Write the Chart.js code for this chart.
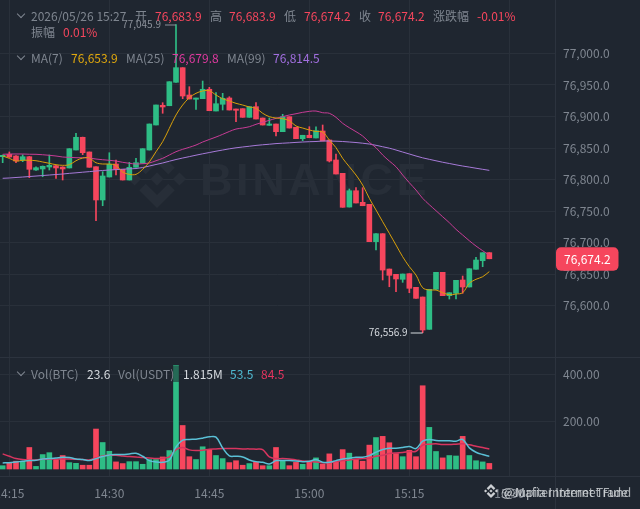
<!DOCTYPE html>
<html>
<head>
<meta charset="utf-8">
<style>
    html, body { margin: 0; padding: 0; background: #1f2630; overflow: hidden; }
    #wrap { position: relative; width: 640px; height: 509px; overflow: hidden; font: 12px "Noto Sans CJK SC", "Noto Sans", sans-serif; color: #7f8690; }
    canvas { position: absolute; left: 0; }
    #priceChart { top: 0; }
    #volumeChart { top: 358px; }
    .t { position: absolute; white-space: nowrap; line-height: 16px; }
    .r { color: #f6465d; }
    .y { color: #e0a80d; }
    .p { color: #df3a9f; }
    .v { color: #a26fe0; }
    .w { color: #d5d9de; }
    .c { color: #4fb9d0; }
    .m { color: #e5345f; }
    .line { position: absolute; background: #2c333e; }
    .chev { position: absolute; left: 18px; width: 5px; height: 5px; border-right: 1px solid #7f8690; border-bottom: 1px solid #7f8690; transform: rotate(45deg); }
    .credit { position: absolute; left: 501px; top: 484px; color: rgba(225, 228, 232, 0.72); line-height: 16px; white-space: nowrap; }
</style>
</head>
<body>
<div id="wrap">
    <canvas id="priceChart" width="640" height="358"></canvas>
    <canvas id="volumeChart" width="640" height="151"></canvas>

    <div class="line" style="left:0;top:357px;width:640px;height:1px"></div>
    <div class="line" style="left:0;top:476px;width:640px;height:1px"></div>
    <div class="line" style="left:555px;top:0;width:1px;height:509px"></div>

    <div class="chev" style="top:11px"></div>
    <span class="t" style="left:31px;top:8px">2026/05/26 15:27</span>
    <span class="t" style="left:135px;top:8px">开</span>
    <span class="t r" style="left:155px;top:8px">76,683.9</span>
    <span class="t" style="left:210px;top:8px">高</span>
    <span class="t r" style="left:229px;top:8px">76,683.9</span>
    <span class="t" style="left:284px;top:8px">低</span>
    <span class="t r" style="left:304px;top:8px">76,674.2</span>
    <span class="t" style="left:359px;top:8px">收</span>
    <span class="t r" style="left:378px;top:8px">76,674.2</span>
    <span class="t" style="left:433px;top:8px">涨跌幅</span>
    <span class="t r" style="left:477px;top:8px">-0.01%</span>
    <span class="t" style="left:31px;top:24px">振幅</span>
    <span class="t r" style="left:63px;top:24px">0.01%</span>

    <div class="chev" style="top:53px"></div>
    <span class="t" style="left:31px;top:50px">MA(7)</span>
    <span class="t y" style="left:71px;top:50px">76,653.9</span>
    <span class="t" style="left:126px;top:50px">MA(25)</span>
    <span class="t p" style="left:172px;top:50px">76,679.8</span>
    <span class="t" style="left:227px;top:50px">MA(99)</span>
    <span class="t v" style="left:273px;top:50px">76,814.5</span>

    <div class="chev" style="top:369px"></div>
    <span class="t" style="left:31px;top:366px">Vol(BTC)</span>
    <span class="t w" style="left:87px;top:366px">23.6</span>
    <span class="t" style="left:118px;top:366px;background:rgba(31,38,48,0.55);padding-right:6px">Vol(USDT)</span>
    <span class="t w" style="left:183px;top:366px">1.815M</span>
    <span class="t c" style="left:230px;top:366px">53.5</span>
    <span class="t m" style="left:261px;top:366px">84.5</span>

    <span class="credit">@Jupiter Internet Fund</span>
    <span class="credit" style="left:504px">@Mafia Internet Trade</span>
</div>

<script src="https://cdn.jsdelivr.net/npm/chart.js@4"></script>
<script>
// Candles, one per minute, 14:14 to 15:27
const opens = [
    76836.2, 76840, 76837.3, 76831, 76836.2, 76815.1, 76816.7, 76819.8, 76821.9, 76819.8,
    76818.3, 76846.8, 76867, 76843.7, 76820.3, 76767.5, 76804, 76824.6, 76816.2, 76799.2,
    76819.4, 76825.7, 76846.8, 76886.5, 76917.8, 76917.1, 76954.3, 76977.5, 76934.1, 76927.3,
    76928.3, 76943.2, 76908.7, 76919.4, 76929.4, 76911.9, 76912.4, 76898.7, 76915.6, 76897.6,
    76886, 76888.1, 76875.9, 76899.7, 76882.9, 76864.8, 76870.2, 76865.9, 76877, 76862.7,
    76831, 76809.8, 76756.3, 76782.2, 76763.8, 76760.6, 76701.3, 76714, 76657.9, 76649.5,
    76641.6, 76650.5, 76628.9, 76613.5, 76562.2, 76625.7, 76652.7, 76615.6, 76619.4, 76640.5,
    76629.4, 76657.5, 76671.1, 76683.9
];
const closes = [
    76838.4, 76835.7, 76829.4, 76836.2, 76816.2, 76818.7, 76821, 76822.5, 76818.3, 76816.7,
    76848.9, 76867, 76842.5, 76819.4, 76767.5, 76805.6, 76824.1, 76816.2, 76799.2, 76819.4,
    76826.7, 76848.9, 76888.1, 76918.3, 76915.1, 76955.2, 76977.5, 76932.5, 76927.8, 76929.4,
    76943.2, 76909.2, 76920.3, 76928.9, 76910.3, 76909.8, 76898.7, 76915.6, 76896, 76886.5,
    76888.1, 76875.9, 76899.7, 76881.7, 76864.8, 76870.2, 76866.3, 76877.5, 76861.1, 76829.4,
    76808.7, 76755.9, 76782.2, 76762.7, 76758.4, 76701.3, 76714, 76656.3, 76647.9, 76642.1,
    76650, 76627.3, 76611.4, 76561.1, 76625.7, 76652.7, 76615.6, 76620.3, 76640, 76629.4,
    76658.4, 76672.2, 76683.8, 76674.2
];
const highs = [
    76838.8, 76843.7, 76838, 76839.4, 76836.8, 76820.3, 76821.5, 76838.9, 76822.4, 76820.2,
    76848.9, 76873.3, 76867.3, 76843.7, 76820.3, 76812.4, 76842.5, 76831, 76816.2, 76827.3,
    76833.7, 76848.9, 76888.1, 76918.3, 76921.9, 76955.2, 77045.9, 76977.5, 76947.3, 76929.4,
    76956.3, 76946.3, 76937.8, 76936.8, 76931.4, 76911.9, 76912.4, 76915.6, 76921.9, 76897.6,
    76897.6, 76888.1, 76903.5, 76899.7, 76882.9, 76870.2, 76883.8, 76883.8, 76886.5, 76862.7,
    76840.5, 76809.8, 76784.9, 76787, 76787, 76760.6, 76714, 76714, 76657.9, 76649.5,
    76650, 76650.5, 76628.9, 76613.5, 76625.7, 76652.7, 76652.7, 76620.3, 76640, 76646.8,
    76658.4, 76676.5, 76683.8, 76683.9
];
const lows = [
    76826.7, 76835, 76826.7, 76828.3, 76802.9, 76814.5, 76804.4, 76815.1, 76801.9, 76799.2,
    76818.3, 76846.8, 76839.4, 76819.4, 76734.6, 76758.4, 76804, 76807.1, 76799.2, 76799.2,
    76819.4, 76825.7, 76846.8, 76886.5, 76905.1, 76917.1, 76954, 76928.3, 76927.8, 76911.4,
    76928.3, 76909.2, 76908.7, 76910.3, 76910.3, 76891.7, 76898.7, 76898.7, 76896, 76886.5,
    76886, 76869, 76875.9, 76881.7, 76864.8, 76861.6, 76866.3, 76865.9, 76861.1, 76827.8,
    76808.7, 76755.9, 76756.3, 76762.7, 76758.4, 76701.3, 76688.1, 76640.5, 76629.8, 76621.9,
    76636.8, 76620.3, 76611.4, 76556.9, 76562.2, 76625.7, 76615.6, 76610.3, 76610.3, 76619.4,
    76629.4, 76657.5, 76661.6, 76674.2
];

const ma7 = [
    76837.3, 76833.6, 76829.3, 76830.5, 76830.5, 76829.8, 76827.8, 76825.7, 76823.5, 76822.5,
    76823.5, 76829.8, 76834.1, 76834.1, 76826.6, 76824.6, 76824.6, 76822.5, 76811.9, 76808.2,
    76808.2, 76816.2, 76827.8, 76844.1, 76860, 76881.2, 76902.4, 76918.2, 76929.8, 76936.8,
    76940.5, 76940.9, 76934.1, 76928.2, 76924.6, 76920.9, 76918.2, 76915.1, 76913, 76905.1,
    76899.7, 76897.6, 76896.5, 76893.3, 76884.9, 76881.7, 76878.6, 76876.2, 76875.4, 76862.7,
    76850.5, 76833.6, 76820.3, 76807.1, 76791.2, 76770.1, 76751.6, 76733, 76714.6, 76696,
    76677.4, 76661.6, 76648.4, 76628.2, 76624.6, 76624.6, 76620.3, 76617.1, 76618.2, 76620.3,
    76635.2, 76641.6, 76645.7, 76653.9
];
const ma25 = [
    76840, 76840.5, 76840.5, 76840.5, 76840.1, 76840, 76839.3, 76838.4, 76837.3, 76835.7,
    76835.2, 76834.6, 76834.6, 76834.1, 76832.5, 76831.4, 76830.5, 76829.3, 76827.3, 76825.7,
    76824.6, 76825.1, 76826.2, 76829.8, 76833.6, 76838.9, 76844.1, 76847.9, 76851.1, 76854.7,
    76859.5, 76863.5, 76867.4, 76871.7, 76876.2, 76880.1, 76881.7, 76883.8, 76887.6, 76890.8,
    76893.9, 76897.1, 76899.7, 76902.4, 76904.4, 76906.6, 76908.2, 76908.7, 76906, 76905.1,
    76898.7, 76889.2, 76882.2, 76875.9, 76869, 76859, 76850.5, 76838.9, 76829.3, 76820.3,
    76807.1, 76794.9, 76783.3, 76770.1, 76760, 76750.5, 76740.9, 76731.4, 76720.9, 76711.9,
    76702.8, 76694.4, 76687, 76679.8
];
const ma99 = [
    76801.9, 76802.4, 76803.2, 76803.9, 76804.7, 76805.5, 76806.3, 76807.1, 76807.9, 76808.7,
    76809.8, 76810.6, 76811.6, 76812.5, 76813.5, 76814.3, 76815.1, 76815.7, 76816.3, 76817,
    76817.4, 76819, 76821.4, 76823.8, 76826.2, 76829, 76831.7, 76834.1, 76836.3, 76838.6,
    76840.8, 76842.8, 76844.9, 76846.8, 76848.7, 76850.3, 76851.6, 76852.8, 76854.1, 76855.1,
    76856, 76857, 76857.6, 76858.2, 76858.9, 76859.5, 76860, 76860.3, 76861.1, 76861.1,
    76860.8, 76860.3, 76859.5, 76858.7, 76857.6, 76856.3, 76854.3, 76852, 76849.7, 76846.8,
    76843.6, 76840.5, 76837.3, 76834.4, 76832, 76829.7, 76827.4, 76825.4, 76823.3, 76821.4,
    76819.7, 76817.9, 76816.2, 76814.5
];

const volumes = [
    14, 26, 33, 33, 91, 11, 61, 69, 37, 57,
    27, 24, 16, 16, 169, 112, 75, 30, 23, 31,
    31, 20, 40, 40, 51, 78, 437, 184, 52, 40,
    94, 82, 57, 44, 27, 35, 16, 23, 30, 14,
    14, 91, 33, 14, 28, 20, 33, 47, 21, 64,
    30, 82, 67, 40, 33, 101, 133, 138, 111, 65,
    52, 79, 52, 352, 176, 74, 47, 57, 55, 138,
    57, 35, 30, 23.6
];
const volFast = [
    25.5, 26.9, 29.8, 32.6, 35.5, 36.9, 42.5, 44, 46.8, 49.6,
    48.2, 42.5, 39.7, 35.5, 44, 52.5, 59.6, 61, 61, 63.8,
    66.6, 53.9, 35.5, 29.8, 28.4, 36.9, 93.6, 122, 124.8, 126.2,
    130.5, 136.1, 134.7, 89.3, 55.3, 53.9, 51, 38.3, 31.2, 28.4,
    21.3, 35.5, 35.5, 35.5, 34, 31.2, 32.6, 39.7, 28.4, 28.4,
    35.5, 42.5, 45.4, 49.6, 49.6, 56.7, 70.9, 82.2, 87.9, 87.9,
    90.8, 95, 86.5, 117.7, 124.8, 120.5, 119.1, 119.1, 117.7, 124.8,
    89.3, 70.9, 61, 53.5
];
const volSlow = [
    63.8, 53.9, 44, 39.7, 38.3, 38.3, 41.1, 42.5, 41.1, 42.5,
    42.5, 41.1, 39.7, 38.3, 46.8, 55.3, 58.1, 58.1, 55.3, 52.5,
    51, 48.2, 46.8, 44, 45.4, 51, 82.2, 90.8, 80.8, 78,
    79.4, 83.7, 85.1, 86.5, 86.5, 86.5, 85.1, 85.1, 83.7, 82.2,
    51, 44, 44, 42.5, 38.3, 34, 31.2, 29.8, 26.9, 26.9,
    31.2, 35.5, 38.3, 42.5, 44, 45.4, 53.9, 58.1, 65.2, 68.1,
    69.5, 73.7, 75.2, 100.7, 104.9, 106.4, 103.5, 103.5, 104.9, 106.4,
    102.1, 96.4, 90.8, 84.5
];

const priceTicks = [77000, 76950, 76900, 76850, 76800, 76750, 76700, 76650, 76600];
const volumeTicks = [200, 400];
const timeTickIndex = [1, 16, 31, 46, 61, 76];
const timeLabels = ['14:15', '14:30', '14:45', '15:00', '15:15', '15:30'];

const lastPrice = 76674.2;
const highIndex = 26, highValue = 77045.9;
const lowIndex = 63, lowValue = 76556.9;

const UP = '#2ebd85', DOWN = '#f6465d', GRID = '#29303a', LABEL = '#7f8690';
const FONT = '"Noto Sans CJK SC", "Noto Sans", sans-serif';

function barColors() {
    return closes.map((c, i) => c >= opens[i] ? UP : DOWN);
}

function formatPrice(v) {
    return v.toLocaleString('en-US', { minimumFractionDigits: 1, maximumFractionDigits: 1 });
}

function lineSet(values, color, width, order) {
    return {
        type: 'line',
        data: values.map((v, i) => ({ x: i, y: v })),
        borderColor: color,
        borderWidth: width,
        pointRadius: 0,
        tension: 0.35,
        order: order
    };
}

function drawLogo(ctx, cx, cy, size, color) {
    let s = size / 63.3;
    ctx.save();
    ctx.translate(cx - 63.3 * s, cy - 63.3 * s);
    ctx.scale(s, s);
    ctx.fillStyle = color;
    ctx.fill(new Path2D('M38.73 53.2l24.59-24.58 24.6 24.6 14.3-14.31L63.32 0 24.42 38.9z'));
    ctx.fill(new Path2D('M0 63.31l14.3-14.31 14.31 14.31-14.31 14.3z'));
    ctx.fill(new Path2D('M38.73 73.41l-14.31 14.3 38.9 38.9 38.9-38.9-14.3-14.3-24.6 24.59z'));
    ctx.fill(new Path2D('M98.02 63.31l14.31-14.31 14.3 14.3-14.3 14.31z'));
    ctx.fill(new Path2D('M77.83 63.3L63.32 48.79 48.81 63.3l14.51 14.51z'));
    ctx.restore();
}

// Watermark goes under the candles
const watermark = {
    id: 'watermark',
    beforeDatasetsDraw(chart) {
        let ctx = chart.ctx;
        drawLogo(ctx, 157, 179, 29, '#272e38');
        ctx.save();
        ctx.fillStyle = '#272e38';
        ctx.font = 'bold 45px "Liberation Sans", sans-serif';
        ctx.letterSpacing = '3.6px';
        ctx.textAlign = 'left';
        ctx.textBaseline = 'alphabetic';
        ctx.fillText('BINANCE', 200, 195);
        ctx.restore();
    }
};

// High and low markers plus the last price tag
const priceMarks = {
    id: 'priceMarks',
    afterDraw(chart) {
        let ctx = chart.ctx, x = chart.scales.x, y = chart.scales.y;
        ctx.save();
        ctx.font = '10px ' + FONT;
        ctx.textBaseline = 'middle';
        ctx.textAlign = 'right';

        let hx = x.getPixelForValue(highIndex), hy = y.getPixelForValue(highValue);
        ctx.fillStyle = '#8b9099';
        ctx.fillText(formatPrice(highValue), hx - 15, hy);
        ctx.fillRect(hx - 11, Math.round(hy) - 0.5, 11, 1);

        let lx = x.getPixelForValue(lowIndex), ly = y.getPixelForValue(lowValue);
        ctx.fillStyle = '#d5d9de';
        ctx.fillText(formatPrice(lowValue), lx - 15, ly);
        ctx.fillRect(lx - 12, Math.round(ly) - 0.5, 12, 1);

        let py = y.getPixelForValue(lastPrice);
        ctx.fillStyle = '#f6465d';
        ctx.beginPath();
        ctx.roundRect(556, py - 11.5, 62.5, 23.5, 5);
        ctx.fill();
        ctx.fillStyle = '#ffffff';
        ctx.font = '12px ' + FONT;
        ctx.textAlign = 'left';
        ctx.fillText(formatPrice(lastPrice), 564, py + 0.5);
        ctx.restore();
    }
};

const creditLogo = {
    id: 'creditLogo',
    afterDraw(chart) {
        drawLogo(chart.ctx, 491, 133, 7, 'rgba(235, 237, 240, 0.85)');
    }
};

function xScale(axisHeight) {
    return {
        type: 'linear',
        min: -0.4,
        max: 82.85,
        offset: false,
        afterBuildTicks: axis => { axis.ticks = timeTickIndex.map(v => ({ value: v })); },
        afterFit: axis => { axis.paddingLeft = 0; axis.paddingRight = 0; axis.height = axisHeight; },
        grid: { color: GRID, drawTicks: false, offset: false },
        border: { display: false },
        ticks: {
            display: axisHeight > 0,
            autoSkip: false,
            maxRotation: 0,
            padding: 9,
            color: LABEL,
            font: { family: FONT, size: 12 },
            callback: v => timeLabels[timeTickIndex.indexOf(v)]
        }
    };
}

function yScale(min, max, tickValues, format) {
    return {
        position: 'right',
        min: min,
        max: max,
        afterBuildTicks: axis => { axis.ticks = tickValues.map(v => ({ value: v })); },
        afterFit: axis => { axis.width = 85; axis.paddingTop = 0; axis.paddingBottom = 0; },
        grid: { color: GRID, drawTicks: false },
        border: { display: false },
        ticks: {
            padding: 8,
            color: LABEL,
            font: { family: FONT, size: 12 },
            callback: format
        }
    };
}

const sharedOptions = {
    responsive: false,
    animation: false,
    events: [],
    layout: { padding: 0 },
    plugins: { legend: { display: false }, tooltip: { enabled: false } }
};

new Chart(document.getElementById('priceChart').getContext('2d'), {
    type: 'bar',
    data: {
        datasets: [
            {
                data: highs.map((h, i) => ({ x: i, y: [lows[i], h] })),
                backgroundColor: barColors(),
                barThickness: 1,
                grouped: false,
                order: 5
            },
            {
                data: opens.map((o, i) => ({ x: i, y: [o, closes[i]] })),
                backgroundColor: barColors(),
                barThickness: 5,
                grouped: false,
                order: 4
            },
            lineSet(ma99, '#a77ad8', 1, 3),
            lineSet(ma25, '#c83c96', 1, 2),
            lineSet(ma7, '#d9a00a', 1, 1)
        ]
    },
    options: Object.assign({}, sharedOptions, {
        scales: {
            x: xScale(0),
            y: yScale(76516.7, 77084.9, priceTicks, formatPrice)
        }
    }),
    plugins: [watermark, priceMarks]
});

new Chart(document.getElementById('volumeChart').getContext('2d'), {
    type: 'bar',
    data: {
        datasets: [
            {
                data: volumes.map((v, i) => ({ x: i, y: v })),
                backgroundColor: barColors(),
                barThickness: 5,
                grouped: false,
                order: 3
            },
            lineSet(volSlow, '#d8355f', 1.5, 2),
            lineSet(volFast, '#5ac0d6', 1.5, 1)
        ]
    },
    options: Object.assign({}, sharedOptions, {
        scales: {
            x: xScale(32),
            y: yScale(-33.8, 469.3, volumeTicks, v => v.toFixed(2))
        }
    }),
    plugins: [creditLogo]
});
</script>
</body>
</html>
